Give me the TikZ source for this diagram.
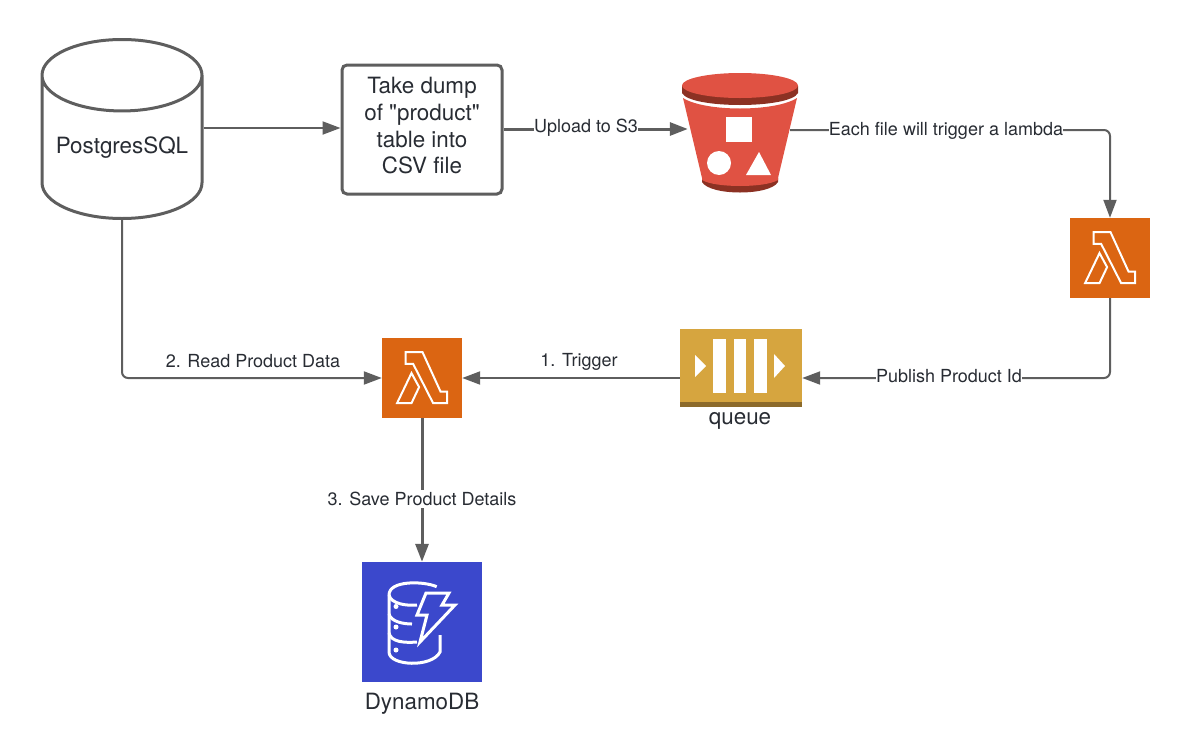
\documentclass[tikz,border=0pt]{standalone}
\usepackage{fontspec}
\newfontfamily\labelfont{TeX Gyre Heros}
\usetikzlibrary{arrows.meta,shapes.geometric}

\definecolor{linegray}{HTML}{5E5E5E}
\definecolor{inkgray}{HTML}{282C33}
\definecolor{lambdaorange}{HTML}{DB6512}
\definecolor{queuegold}{HTML}{D6A53F}
\definecolor{queuedark}{HTML}{8C6A2A}
\definecolor{bucketred}{HTML}{E05243}
\definecolor{bucketdark}{HTML}{8C3123}
\definecolor{dynamoblue}{HTML}{3B48CC}

\tikzset{
  conn/.style={draw=linegray,line width=2pt,rounded corners=6pt,-{Triangle[length=18pt,width=13pt]}},
  heavyconn/.style={conn,line width=3pt},
  edgelabel/.style={text=inkgray,font=\labelfont\fontsize{18}{20}\selectfont,inner xsep=0pt,inner ysep=2pt},
  iconlabel/.style={text=inkgray,font=\labelfont\fontsize{22.4}{26.7}\selectfont,inner sep=0pt},
  lambdabox/.style={fill=lambdaorange,minimum width=80pt,minimum height=80pt,inner sep=0pt},
  iconline/.style={draw=white,line width=2pt,line join=miter,fill=none},
  lambdaicon/.pic={
    \draw[iconline] (23.7,14.3) -- (40.7,14.3) -- (58.7,53.7) -- (65.3,53.7) -- (65.3,65.3)
      -- (51.3,65.3) -- (31.3,26) -- (23.7,26) -- cycle;
    \draw[iconline] (29.7,35.3) -- (37.3,49.3) -- (29.7,65.3) -- (15.3,65.3) -- cycle;
  }
}

\begin{document}
\begin{tikzpicture}[x=1pt,y=-1pt]
  \useasboundingbox (0,0) rectangle (1181,750);

  % source and dump
  \node[cylinder,shape border rotate=90,aspect=0.54,draw=linegray,line width=3pt,anchor=north,
    minimum width=160pt,minimum height=179pt,inner sep=0pt,iconlabel] (pg) at (122,38) {PostgresSQL};
  \node[draw=linegray,line width=3pt,rounded corners=5pt,minimum width=160pt,minimum height=129pt,
    align=center,inner sep=0pt,iconlabel,text depth=8pt] (dump) at (422,129.5)
    {Take dump\\of "product"\\table into\\CSV file};

  % bucket
  \node[minimum width=102pt,minimum height=120pt,inner sep=0pt] (s3) at (739,133) {};
  \fill[bucketred] (683,98) .. controls (705,112) and (775,112) .. (797,98)
    -- (778,178) -- (702,178) -- cycle;
  \fill[bucketdark] (702,178) -- (778,178) -- (778,182) .. controls (770,196) and (710,196) .. (702,182) -- cycle;
  \fill[bucketred] (702,176) -- (778,176) -- (778,180) .. controls (765,188) and (715,188) .. (702,180) -- cycle;
  \fill[bucketdark] (682,86) -- (682,93) .. controls (690,109) and (790,109) .. (798,93) -- (798,86) -- cycle;
  \fill[bucketred] (740,85.5) ellipse (58pt and 12.5pt);
  \fill[white] (726,117) rectangle (752,142);
  \fill[white] (719,163) circle (12pt);
  \fill[white] (746,175) -- (771,175) -- (759,152) -- cycle;

  % lambdas
  \node[lambdabox] (lambdaa) at (1110,258) {};
  \pic at (lambdaa.north west) {lambdaicon};
  \node[lambdabox] (lambdab) at (422,378) {};
  \pic at (lambdab.north west) {lambdaicon};

  % queue
  \node[fill=queuegold,minimum width=122pt,minimum height=78pt,inner sep=0pt] (queue) at (741,368) {};
  \fill[queuedark] (680,402) rectangle (802,407);
  \fill[white] (695,355) -- (706,366) -- (695,377) -- cycle;
  \fill[white] (713,339) rectangle (726,393);
  \fill[white] (734,339) rectangle (746,393);
  \fill[white] (754,339) rectangle (767,393);
  \fill[white] (774,354) -- (785,366) -- (774,378) -- cycle;
  \node[iconlabel] (queuelabel) at (740,421) {queue};

  % dynamo
  \node[fill=dynamoblue,minimum width=120pt,minimum height=120pt,inner sep=0pt] (dynamo) at (422,622) {};
  \begin{scope}[shift={(362,562)},draw=white,line width=3pt]
    \draw (74.7,24.7) .. controls (62,19) and (27,18) .. (27,33) -- (27,90)
      .. controls (27,104) and (70,106) .. (78,90) -- (78,73);
    \draw (27,33) .. controls (29,42) and (45,44) .. (55,43);
    \draw (27,52) .. controls (29,60) and (42,62) .. (50,62);
    \draw (27,71) .. controls (29,80) and (42,81) .. (55,80);
    \fill[white] (34,44.5) circle (2.5pt) (34,65) circle (2.5pt) (34,88) circle (2.5pt);
    \draw[line join=miter] (64,31) -- (87,31) -- (80,43) -- (93,43) -- (58,80) -- (65,53) -- (55,53) -- cycle;
  \end{scope}
  \node[iconlabel] (dynamolabel) at (422,704) {DynamoDB};

  % connectors
  \draw[conn] (pg.east |- 0,128) -- (dump.west |- 0,128);
  \draw[heavyconn] (dump.east |- 0,129) -- (s3.west |- 0,129);
  \draw[conn] (s3.east |- 0,130) -- (lambdaa.north |- 0,130) -- (lambdaa.north);
  \draw[conn] (lambdaa.south) -- (lambdaa.south |- lambdab.east) -- (queue.east |- lambdab.east);
  \draw[conn] (queue.west |- lambdab.east) -- (lambdab.east);
  \draw[conn] (pg.south) -- (pg.south |- lambdab.west) -- (lambdab.west);
  \draw[heavyconn] (lambdab.south) -- (dynamo.north);

  % labels
  \node[edgelabel,fill=white] (uploadlabel) at (586,128) {Upload to S3};
  \node[edgelabel,fill=white] (triggerlabel) at (946,131) {Each file will trigger a lambda};
  \node[edgelabel,fill=white] (publishlabel) at (949,376) {Publish Product Id};
  \node[edgelabel] (firstlabel) at (579,362) {1. Trigger};
  \node[edgelabel] (secondlabel) at (253,361) {2. Read Product Data};
  \node[edgelabel,fill=white] (thirdlabel) at (422,499) {3. Save Product Details};
\end{tikzpicture}
\end{document}
